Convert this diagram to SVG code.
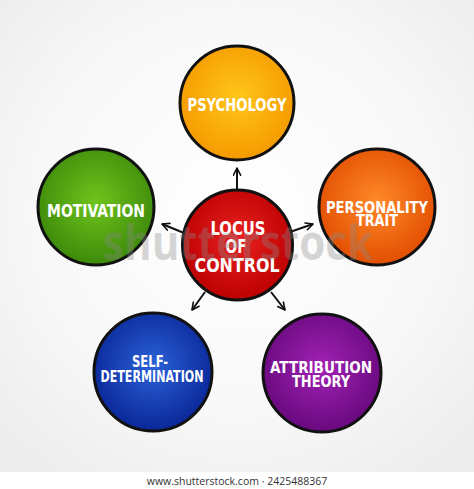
<svg xmlns="http://www.w3.org/2000/svg" width="474" height="489" viewBox="0 0 474 489">
<defs>
<radialGradient id="bg" cx="0.5" cy="0.45" r="0.7">
<stop offset="0" stop-color="#ffffff"/>
<stop offset="0.6" stop-color="#f8f8f8"/>
<stop offset="1" stop-color="#ececec"/>
</radialGradient>
<radialGradient id="gY" cx="0.5" cy="0.45" r="0.55"><stop offset="0" stop-color="#ffc61a"/><stop offset="1" stop-color="#f59a00"/></radialGradient>
<radialGradient id="gG" cx="0.5" cy="0.45" r="0.55"><stop offset="0" stop-color="#6fc41c"/><stop offset="1" stop-color="#3d8a0a"/></radialGradient>
<radialGradient id="gO" cx="0.5" cy="0.45" r="0.55"><stop offset="0" stop-color="#ff8a2a"/><stop offset="1" stop-color="#e24e00"/></radialGradient>
<radialGradient id="gB" cx="0.5" cy="0.45" r="0.55"><stop offset="0" stop-color="#2b62d8"/><stop offset="1" stop-color="#0a2798"/></radialGradient>
<radialGradient id="gP" cx="0.5" cy="0.45" r="0.55"><stop offset="0" stop-color="#a222b4"/><stop offset="1" stop-color="#68097e"/></radialGradient>
<radialGradient id="gR" cx="0.5" cy="0.45" r="0.55"><stop offset="0" stop-color="#ea2222"/><stop offset="1" stop-color="#bc0000"/></radialGradient>
<marker id="ah" viewBox="0 0 10 10" refX="9" refY="5" markerWidth="9" markerHeight="9" markerUnits="userSpaceOnUse" orient="auto">
<path d="M1,1 L9,5 L1,9" fill="none" stroke="#111" stroke-width="1.8" stroke-linecap="round" stroke-linejoin="round"/>
</marker>
</defs>
<style>
.c{stroke:#111;stroke-width:3}
.t{font-family:"DejaVu Sans Condensed","DejaVu Sans",sans-serif;font-weight:bold;fill:#fff;text-anchor:middle}
.a{stroke:#111;stroke-width:2;fill:none;marker-end:url(#ah)}
</style>
<rect x="0" y="0" width="474" height="472" fill="url(#bg)"/>
<rect x="0" y="472" width="474" height="17" fill="#fff"/>
<g id="connectors">
<line class="a" x1="237" y1="192" x2="237" y2="168"/>
<line class="a" x1="184" y1="233" x2="162" y2="224"/>
<line class="a" x1="290" y1="232" x2="313" y2="224"/>
<line class="a" x1="205" y1="292" x2="192" y2="310"/>
<line class="a" x1="271" y1="292" x2="285" y2="310"/>
</g>
<g id="psychology">
<circle class="c" cx="237" cy="103" r="57" fill="url(#gY)"/>
<text class="t" x="237" y="111" font-size="17" textLength="99" lengthAdjust="spacingAndGlyphs">PSYCHOLOGY</text>
</g>
<g id="motivation">
<circle class="c" cx="96" cy="207" r="58" fill="url(#gG)"/>
<text class="t" x="96" y="217" font-size="17" textLength="98" lengthAdjust="spacingAndGlyphs">MOTIVATION</text>
</g>
<g id="personality-trait">
<circle class="c" cx="377" cy="207" r="58" fill="url(#gO)"/>
<text class="t" x="377" y="213" font-size="15" textLength="102" lengthAdjust="spacingAndGlyphs">PERSONALITY</text>
<text class="t" x="377" y="226" font-size="15" textLength="42" lengthAdjust="spacingAndGlyphs">TRAIT</text>
</g>
<g id="self-determination">
<circle class="c" cx="153" cy="372" r="59" fill="url(#gB)"/>
<text class="t" x="150" y="367" font-size="15" textLength="36" lengthAdjust="spacingAndGlyphs">SELF-</text>
<text class="t" x="152" y="382" font-size="15" textLength="103" lengthAdjust="spacingAndGlyphs">DETERMINATION</text>
</g>
<g id="attribution-theory">
<circle class="c" cx="322" cy="373" r="59" fill="url(#gP)"/>
<text class="t" x="321" y="373" font-size="16" textLength="102" lengthAdjust="spacingAndGlyphs">ATTRIBUTION</text>
<text class="t" x="321" y="387" font-size="16" textLength="58" lengthAdjust="spacingAndGlyphs">THEORY</text>
</g>
<g id="locus-of-control">
<circle class="c" cx="237.5" cy="245" r="55" fill="url(#gR)"/>
<text class="t" x="238" y="235" font-size="20" textLength="55" lengthAdjust="spacingAndGlyphs">LOCUS</text>
<text class="t" x="236" y="253" font-size="19" textLength="21" lengthAdjust="spacingAndGlyphs">OF</text>
<text class="t" x="237" y="272" font-size="20" textLength="85" lengthAdjust="spacingAndGlyphs">CONTROL</text>
</g>
<text x="238" y="260" font-family="'Open Sans','DejaVu Sans',sans-serif" font-weight="bold" font-size="48" fill="#8a8a8a" fill-opacity="0.35" text-anchor="middle" textLength="270" lengthAdjust="spacingAndGlyphs">shutterstock</text>
<text x="237" y="485" font-family="'Open Sans','DejaVu Sans',sans-serif" font-size="10.5" fill="#333" text-anchor="middle">www.shutterstock.com · 2425488367</text>
</svg>
